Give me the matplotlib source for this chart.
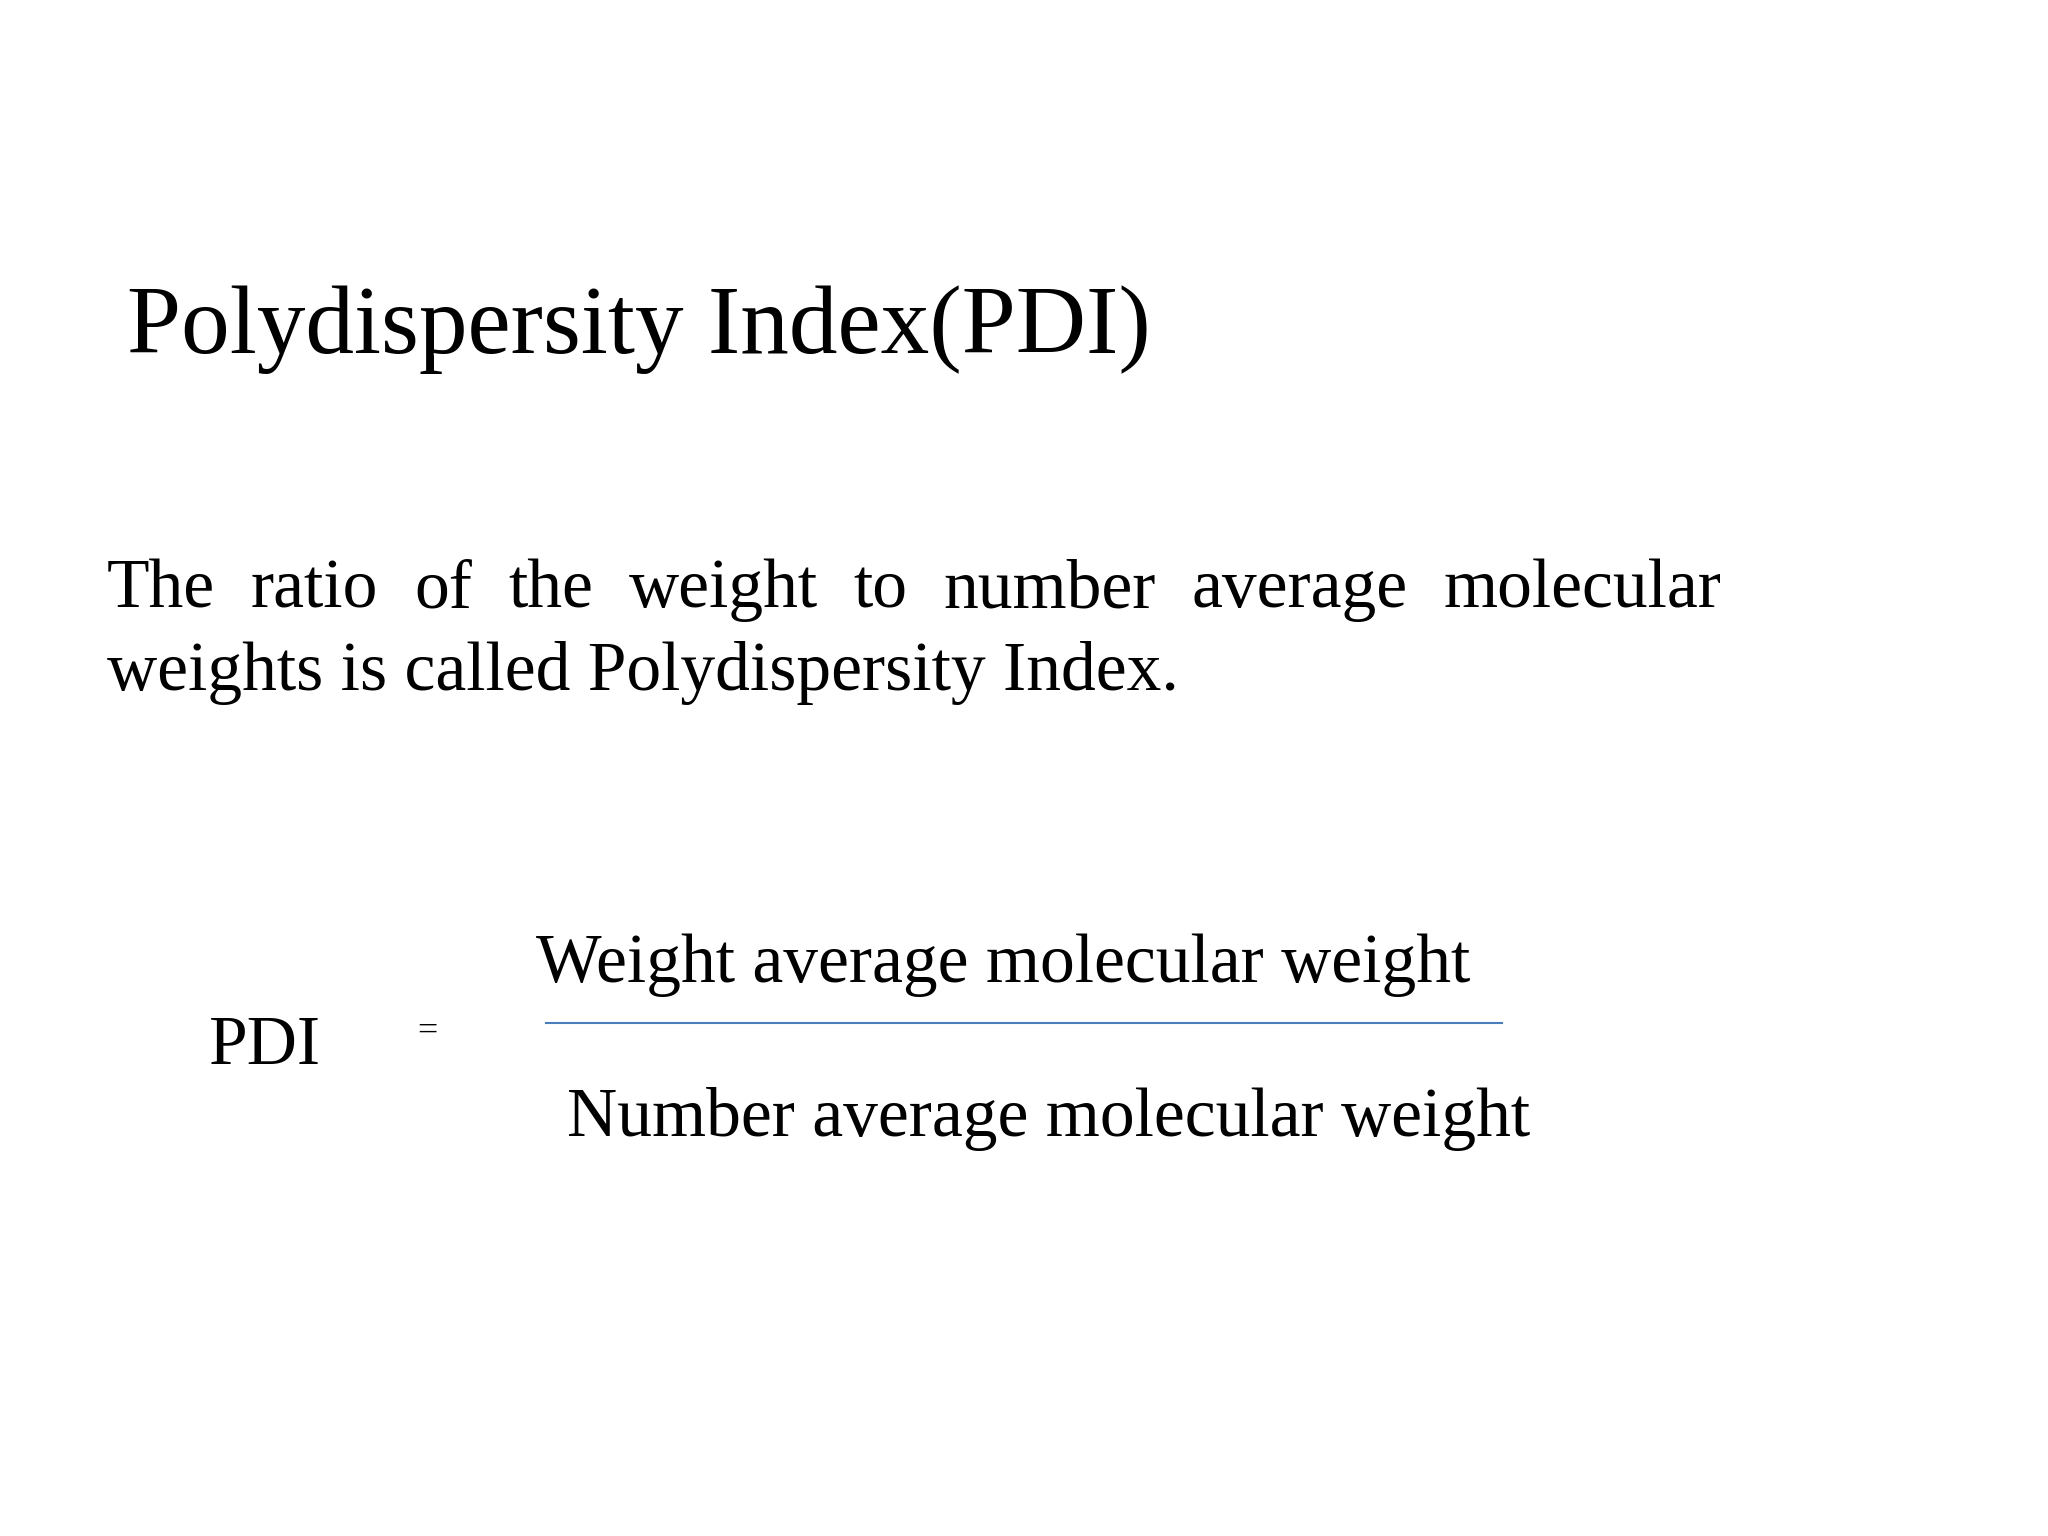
import matplotlib
matplotlib.use("Agg")
import matplotlib.pyplot as plt

title = "Polydispersity Index(PDI)"
line1_words = ["The", "ratio", "of", "the", "weight", "to", "number", "average", "molecular"]
line2 = "weights is called Polydispersity Index."
numerator = "Weight average molecular weight"
denominator = "Number average molecular weight"
lhs = "PDI"

W, H = 1568, 1176
fig = plt.figure(figsize=(20.48, 15.36), dpi=100)
fig.patch.set_facecolor("white")
fam = "Liberation Serif"

def fx(x): return x / W
def fy(y): return 1 - y / H

fig.text(fx(97), fy(270), title, family=fam, fontsize=70, va="baseline")

# justified first line
fig.canvas.draw()
r = fig.canvas.get_renderer()
x0, x1 = fx(82), fx(1318)
texts = [fig.text(0, fy(465), w, family=fam, fontsize=50, va="baseline") for w in line1_words]
widths = [t.get_window_extent(r).width / fig.bbox.width for t in texts]
gap = (x1 - x0 - sum(widths)) / (len(texts) - 1)
x = x0
for t, w in zip(texts, widths):
    t.set_x(x)
    x += w + gap
fig.text(fx(82), fy(528), line2, family=fam, fontsize=50, va="baseline")

fig.text(fx(410), fy(752), numerator, family=fam, fontsize=50, va="baseline")
fig.text(fx(434), fy(870), denominator, family=fam, fontsize=50, va="baseline")
fig.text(fx(160), fy(815), lhs, family=fam, fontsize=50, va="baseline")
fig.text(fx(327), fy(790), "=", family=fam, fontsize=26, va="center", ha="center")
fig.add_artist(plt.Line2D([fx(418), fx(1150)], [fy(783), fy(783)], color="#4a7ebb", lw=1.5))

fig.savefig("out.png", dpi=100, facecolor="white")
